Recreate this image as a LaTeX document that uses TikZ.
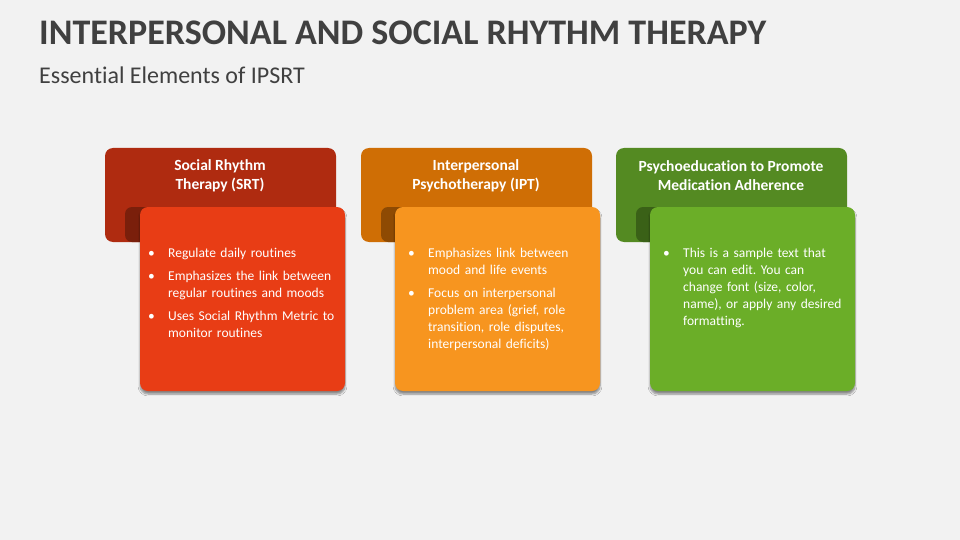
\documentclass[tikz,border=0pt]{standalone}
\usepackage{fontspec}
\setmainfont{Carlito}[Ligatures=NoCommon]
\usepackage{xcolor}
\usetikzlibrary{shadows.blur}

\definecolor{bgGray}{HTML}{F2F2F2}
\definecolor{titleGray}{HTML}{404040}
\definecolor{srtHead}{HTML}{AF2B10}
\definecolor{srtBody}{HTML}{E83D15}
\definecolor{srtFold}{HTML}{7A1F0B}
\definecolor{iptHead}{HTML}{CF6E05}
\definecolor{iptBody}{HTML}{F7951F}
\definecolor{iptFold}{HTML}{8E4A03}
\definecolor{psyHead}{HTML}{548A22}
\definecolor{psyBody}{HTML}{6BAE28}
\definecolor{psyFold}{HTML}{3A6117}

\newcommand{\bul}[1]{\par\leftskip=20pt\noindent
  \llap{\makebox[20pt][l]{\textbullet}}#1\par\vspace{6pt}}

\tikzset{
  hdr/.style={rounded corners=8pt,minimum width=231pt,minimum height=94pt,inner sep=0pt},
  card/.style={rounded corners=8pt,minimum width=205pt,minimum height=184pt,inner sep=0pt,
               blur shadow={shadow xshift=0pt,shadow yshift=-3pt,shadow opacity=45,shadow blur steps=6}},
  hdrtext/.style={text=white,font=\fontsize{15.5}{19}\selectfont\bfseries,align=center},
  bodytext/.style={text=white,font=\fontsize{13.5}{17}\selectfont\frenchspacing,text width=200pt,
                   inner sep=0pt,anchor=north west,align=left}
}

\begin{document}
\begin{tikzpicture}[x=1pt,y=-1pt]
    \useasboundingbox (0,0) rectangle (960,540);
    \fill[bgGray] (0,0) rectangle (960,540);

    % Title
    \node[anchor=west,inner sep=0pt,text=titleGray,font=\fontsize{36}{40}\selectfont\bfseries]
        (title) at (39,33) {INTERPERSONAL AND SOCIAL RHYTHM THERAPY};
    \node[anchor=west,inner sep=0pt,text=titleGray,font=\fontsize{24}{28}\selectfont]
        (subtitle) at (39,75) {Essential Elements of IPSRT};

    % Social Rhythm Therapy (SRT)
    \node[hdr,fill=srtHead] (srtH) at (220.5,195) {};
    \fill[srtFold,rounded corners=7pt] (125,207) rectangle (152,242);
    \node[card,fill=srtBody] (srtB) at (242.5,299) {};
    \node[hdrtext] (srtT) at (220,176) {Social Rhythm\\Therapy (SRT)};
    \node[bodytext] (srtL) at (148,240) {%
        \bul{Regulate daily routines}
        \bul{Emphasizes the link between\\regular routines and moods}
        \bul{Uses Social Rhythm Metric to\\monitor routines}};

    % Interpersonal Psychotherapy (IPT)
    \node[hdr,fill=iptHead] (iptH) at (476.5,195) {};
    \fill[iptFold,rounded corners=7pt] (381,207) rectangle (408,242);
    \node[card,fill=iptBody] (iptB) at (497.5,299) {};
    \node[hdrtext] (iptT) at (476,176) {Interpersonal\\Psychotherapy (IPT)};
    \node[bodytext] (iptL) at (408,240) {%
        \bul{Emphasizes link between\\mood and life events}
        \bul{Focus on interpersonal\\problem area (grief, role\\transition, role disputes,\\interpersonal deficits)}};

    % Psychoeducation
    \node[hdr,fill=psyHead] (psyH) at (731.5,195) {};
    \fill[psyFold,rounded corners=7pt] (636,207) rectangle (663,242);
    \node[card,fill=psyBody] (psyB) at (752.5,299) {};
    \node[hdrtext] (psyT) at (731,176) {Psychoeducation to Promote\\Medication Adherence};
    \node[bodytext] (psyL) at (663,240) {%
        \bul{This is a sample text that\\you can edit. You can\\change font (size, color,\\name), or apply any desired\\formatting.}};
\end{tikzpicture}
\end{document}
